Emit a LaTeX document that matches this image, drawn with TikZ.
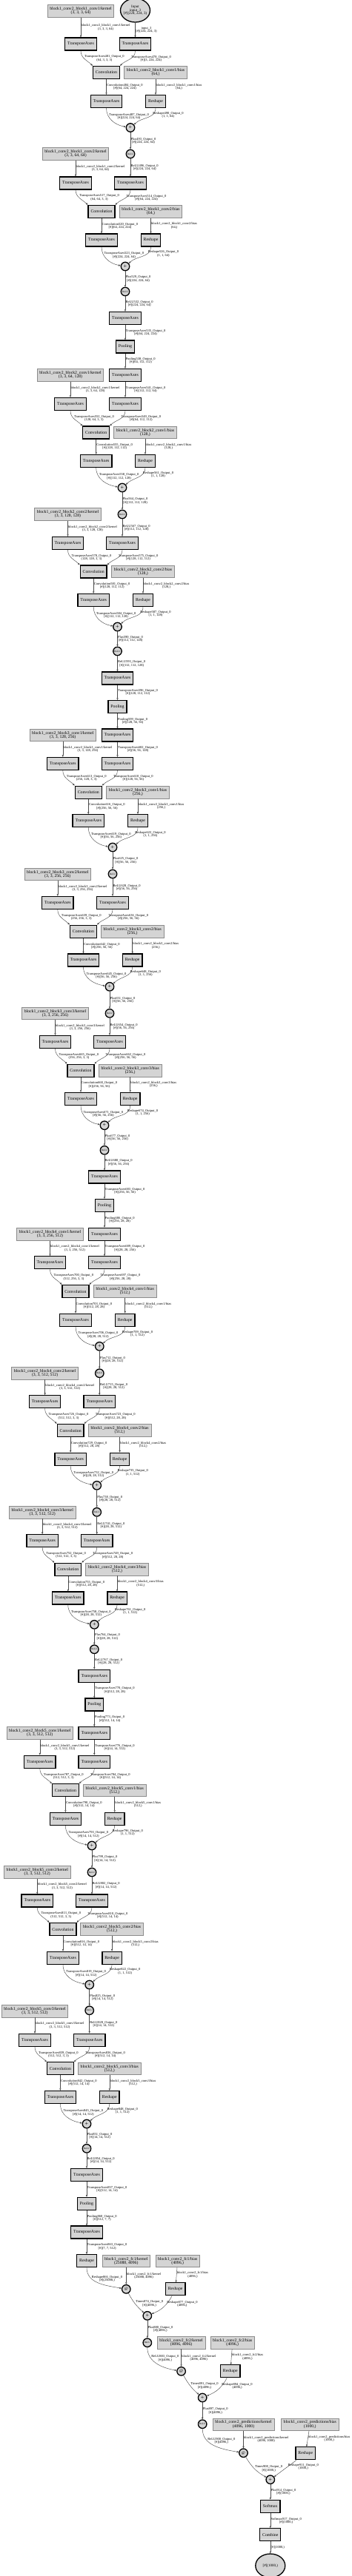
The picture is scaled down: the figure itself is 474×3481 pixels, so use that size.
\documentclass[tikz,border=0pt]{standalone}
\usepackage{fontspec}
\setmainfont{Liberation Serif}
\usetikzlibrary{arrows.meta,shapes.geometric}
\newcommand\dynax{[\#]}
\tikzset{
  kop/.style={draw=black, line width=1.3pt, fill=black!17, inner xsep=3.4pt, inner ysep=0pt, minimum height=17pt, font=\fontsize{5.8}{6}\selectfont},
  kparam/.style={draw=black!45, line width=0.7pt, fill=black!17, align=center, inner xsep=3.2pt, inner ysep=0pt, minimum height=16.5pt, font=\fontsize{5.7}{4.9}\selectfont},
  kcirc/.style={circle, draw=black, line width=1.3pt, fill=black!17, minimum size=11.5pt, inner sep=0pt},
  kplus/.style={kcirc, font=\fontsize{8}{8}\selectfont},
  krelu/.style={kcirc, font=\fontsize{3.3}{3.3}\selectfont},
  ktimes/.style={kcirc, font=\fontsize{5.5}{5.5}\selectfont},
  kegg/.style={ellipse, draw=black, line width=1.3pt, fill=black!17, align=center, minimum width=40pt, minimum height=32pt, inner xsep=-3pt, inner ysep=0pt, font=\fontsize{5}{4.7}\selectfont},
  flow/.style={-{Triangle[length=2.6pt, width=2.2pt]}, draw=black!70, line width=0.45pt},
  elabel/.style={anchor=west, align=center, inner sep=0.5pt, font=\fontsize{4.5}{4.3}\selectfont},
}
\begin{document}
\begin{tikzpicture}[x=1pt, y=1pt]
  \useasboundingbox (0,0) rectangle (474,-3481);
  \clip (0,0) rectangle (474,-3481);
  \node[kegg] (inp) at (182.5,-14) {Input\\input\_3\\\dynax(224, 224, 3)};
  \node[kparam] (kern1) at (109,-15) {block1\_conv2\_block1\_conv1/kernel\\(3, 3, 3, 64)};
  \node[kop] (tak1) at (109,-59.5) {TransposeAxes};
  \node[kop] (tain1) at (182.5,-59.5) {TransposeAxes};
  \node[kop] (conv1) at (143.5,-98) {Convolution};
  \node[kparam] (bias1) at (210,-98) {block1\_conv2\_block1\_conv1/bias\\(64,)};
  \node[kop] (taout1) at (143.5,-137) {TransposeAxes};
  \node[kop] (rsh1) at (210,-137) {Reshape};
  \node[kplus] (plus1) at (176,-172.5) {+};
  \node[krelu] (relu1) at (176,-208) {ReLU};
  \draw[flow] (kern1) -- (tak1) node[midway, elabel] {block1\_conv2\_block1\_conv1/kernel\\(3, 3, 3, 64)};
  \draw[flow] (inp) -- (tain1) node[midway, elabel] {input\_3\\\dynax(224, 224, 3)};
  \draw[flow] (tak1.south) to[out=-90, in=135] node[pos=0.45, elabel] {TransposeAxes481\_Output\_0\\(64, 3, 3, 3)} (conv1.north west);
  \draw[flow] (tain1.south) to[out=-90, in=45] node[pos=0.45, elabel] {TransposeAxes478\_Output\_0\\\dynax(3, 224, 224)} (conv1.north east);
  \draw[flow] (conv1) -- (taout1) node[midway, elabel] {Convolution484\_Output\_0\\\dynax(64, 224, 224)};
  \draw[flow] (bias1) -- (rsh1) node[midway, elabel] {block1\_conv2\_block1\_conv1/bias\\(64,)};
  \draw[flow] (taout1.south) to[out=-90, in=170] node[pos=0.3, elabel] {TransposeAxes487\_Output\_0\\\dynax(224, 224, 64)} (plus1.170);
  \draw[flow] (rsh1.south) to[out=-90, in=45] node[pos=0.3, elabel] {Reshape490\_Output\_0\\(1, 1, 64)} (plus1.40);
  \draw[flow] (plus1) -- (relu1) node[midway, elabel] {Plus493\_Output\_0\\\dynax(224, 224, 64)};

  \node[kparam] (kern2) at (102,-208) {block1\_conv2\_block1\_conv2/kernel\\(3, 3, 64, 64)};
  \node[kop] (tak2) at (102,-247.5) {TransposeAxes};
  \node[kop] (tain2) at (176,-247.5) {TransposeAxes};
  \node[kop] (conv2) at (137,-286) {Convolution};
  \node[kparam] (bias2) at (203.5,-286) {block1\_conv2\_block1\_conv2/bias\\(64,)};
  \node[kop] (taout2) at (137,-324.5) {TransposeAxes};
  \node[kop] (rsh2) at (203.5,-324.5) {Reshape};
  \node[kplus] (plus2) at (169,-360) {+};
  \node[krelu] (relu2) at (169,-394) {ReLU};
  \draw[flow] (kern2) -- (tak2) node[midway, elabel] {block1\_conv2\_block1\_conv2/kernel\\(3, 3, 64, 64)};
  \draw[flow] (relu1) -- (tain2) node[midway, elabel] {ReLU496\_Output\_0\\\dynax(224, 224, 64)};
  \draw[flow] (tak2.south) to[out=-90, in=135] node[pos=0.45, elabel] {TransposeAxes517\_Output\_0\\(64, 64, 3, 3)} (conv2.north west);
  \draw[flow] (tain2.south) to[out=-90, in=45] node[pos=0.45, elabel] {TransposeAxes514\_Output\_0\\\dynax(64, 224, 224)} (conv2.north east);
  \draw[flow] (conv2) -- (taout2) node[midway, elabel] {Convolution520\_Output\_0\\\dynax(64, 224, 224)};
  \draw[flow] (bias2) -- (rsh2) node[midway, elabel] {block1\_conv2\_block1\_conv2/bias\\(64,)};
  \draw[flow] (taout2.south) to[out=-90, in=170] node[pos=0.3, elabel] {TransposeAxes523\_Output\_0\\\dynax(224, 224, 64)} (plus2.170);
  \draw[flow] (rsh2.south) to[out=-90, in=45] node[pos=0.3, elabel] {Reshape526\_Output\_0\\(1, 1, 64)} (plus2.40);
  \draw[flow] (plus2) -- (relu2) node[midway, elabel] {Plus529\_Output\_0\\\dynax(224, 224, 64)};

  \node[kop] (tapre1) at (169,-430) {TransposeAxes};
  \node[kop] (pool1) at (169,-468.5) {Pooling};
  \node[kop] (tapost1) at (169,-507) {TransposeAxes};
  \draw[flow] (relu2) -- (tapre1) node[midway, elabel] {ReLU532\_Output\_0\\\dynax(224, 224, 64)};
  \draw[flow] (tapre1) -- (pool1) node[midway, elabel] {TransposeAxes535\_Output\_0\\\dynax(64, 224, 224)};
  \draw[flow] (pool1) -- (tapost1) node[midway, elabel] {Pooling538\_Output\_0\\\dynax(64, 112, 112)};

  \node[kparam] (kern3) at (95,-507) {block1\_conv2\_block2\_conv1/kernel\\(3, 3, 64, 128)};
  \node[kop] (tak3) at (95,-546) {TransposeAxes};
  \node[kop] (tain3) at (169,-546) {TransposeAxes};
  \node[kop] (conv3) at (129.7,-584.5) {Convolution};
  \node[kparam] (bias3) at (196,-584.5) {block1\_conv2\_block2\_conv1/bias\\(128,)};
  \node[kop] (taout3) at (129.7,-623) {TransposeAxes};
  \node[kop] (rsh3) at (196,-623) {Reshape};
  \node[kplus] (plus3) at (165,-659) {+};
  \node[krelu] (relu3) at (165,-695) {ReLU};
  \draw[flow] (kern3) -- (tak3) node[midway, elabel] {block1\_conv2\_block2\_conv1/kernel\\(3, 3, 64, 128)};
  \draw[flow] (tapost1) -- (tain3) node[midway, elabel] {TransposeAxes541\_Output\_0\\\dynax(112, 112, 64)};
  \draw[flow] (tak3.south) to[out=-90, in=135] node[pos=0.45, elabel] {TransposeAxes552\_Output\_0\\(128, 64, 3, 3)} (conv3.north west);
  \draw[flow] (tain3.south) to[out=-90, in=45] node[pos=0.45, elabel] {TransposeAxes549\_Output\_0\\\dynax(64, 112, 112)} (conv3.north east);
  \draw[flow] (conv3) -- (taout3) node[midway, elabel] {Convolution555\_Output\_0\\\dynax(128, 112, 112)};
  \draw[flow] (bias3) -- (rsh3) node[midway, elabel] {block1\_conv2\_block2\_conv1/bias\\(128,)};
  \draw[flow] (taout3.south) to[out=-90, in=170] node[pos=0.3, elabel] {TransposeAxes558\_Output\_0\\\dynax(112, 112, 128)} (plus3.170);
  \draw[flow] (rsh3.south) to[out=-90, in=45] node[pos=0.3, elabel] {Reshape561\_Output\_0\\(1, 1, 128)} (plus3.40);
  \draw[flow] (plus3) -- (relu3) node[midway, elabel] {Plus564\_Output\_0\\\dynax(112, 112, 128)};

  \node[kparam] (kern4) at (91.5,-695) {block1\_conv2\_block2\_conv2/kernel\\(3, 3, 128, 128)};
  \node[kop] (tak4) at (91.5,-734) {TransposeAxes};
  \node[kop] (tain4) at (165,-734) {TransposeAxes};
  \node[kop] (conv4) at (126.2,-772.5) {Convolution};
  \node[kparam] (bias4) at (193,-772.5) {block1\_conv2\_block2\_conv2/bias\\(128,)};
  \node[kop] (taout4) at (126.2,-811) {TransposeAxes};
  \node[kop] (rsh4) at (193,-811) {Reshape};
  \node[kplus] (plus4) at (158.5,-847) {+};
  \node[krelu] (relu4) at (158.5,-880) {ReLU};
  \draw[flow] (kern4) -- (tak4) node[midway, elabel] {block1\_conv2\_block2\_conv2/kernel\\(3, 3, 128, 128)};
  \draw[flow] (relu3) -- (tain4) node[midway, elabel] {ReLU567\_Output\_0\\\dynax(112, 112, 128)};
  \draw[flow] (tak4.south) to[out=-90, in=135] node[pos=0.45, elabel] {TransposeAxes578\_Output\_0\\(128, 128, 3, 3)} (conv4.north west);
  \draw[flow] (tain4.south) to[out=-90, in=45] node[pos=0.45, elabel] {TransposeAxes575\_Output\_0\\\dynax(128, 112, 112)} (conv4.north east);
  \draw[flow] (conv4) -- (taout4) node[midway, elabel] {Convolution581\_Output\_0\\\dynax(128, 112, 112)};
  \draw[flow] (bias4) -- (rsh4) node[midway, elabel] {block1\_conv2\_block2\_conv2/bias\\(128,)};
  \draw[flow] (taout4.south) to[out=-90, in=170] node[pos=0.3, elabel] {TransposeAxes584\_Output\_0\\\dynax(112, 112, 128)} (plus4.170);
  \draw[flow] (rsh4.south) to[out=-90, in=45] node[pos=0.3, elabel] {Reshape587\_Output\_0\\(1, 1, 128)} (plus4.40);
  \draw[flow] (plus4) -- (relu4) node[midway, elabel] {Plus590\_Output\_0\\\dynax(112, 112, 128)};

  \node[kop] (tapre2) at (158.5,-916.5) {TransposeAxes};
  \node[kop] (pool2) at (158.5,-955) {Pooling};
  \node[kop] (tapost2) at (158.5,-993.5) {TransposeAxes};
  \draw[flow] (relu4) -- (tapre2) node[midway, elabel] {ReLU593\_Output\_0\\\dynax(112, 112, 128)};
  \draw[flow] (tapre2) -- (pool2) node[midway, elabel] {TransposeAxes596\_Output\_0\\\dynax(128, 112, 112)};
  \draw[flow] (pool2) -- (tapost2) node[midway, elabel] {Pooling599\_Output\_0\\\dynax(128, 56, 56)};

  \node[kparam] (kern5) at (84.8,-993.5) {block1\_conv2\_block3\_conv1/kernel\\(3, 3, 128, 256)};
  \node[kop] (tak5) at (84.8,-1032) {TransposeAxes};
  \node[kop] (tain5) at (158.5,-1032) {TransposeAxes};
  \node[kop] (conv5) at (119.3,-1070.7) {Convolution};
  \node[kparam] (bias5) at (186,-1070.7) {block1\_conv2\_block3\_conv1/bias\\(256,)};
  \node[kop] (taout5) at (119.3,-1109.2) {TransposeAxes};
  \node[kop] (rsh5) at (186,-1109.2) {Reshape};
  \node[kplus] (plus5) at (152,-1145) {+};
  \node[krelu] (relu5) at (152,-1181) {ReLU};
  \draw[flow] (kern5) -- (tak5) node[midway, elabel] {block1\_conv2\_block3\_conv1/kernel\\(3, 3, 128, 256)};
  \draw[flow] (tapost2) -- (tain5) node[midway, elabel] {TransposeAxes602\_Output\_0\\\dynax(56, 56, 128)};
  \draw[flow] (tak5.south) to[out=-90, in=135] node[pos=0.45, elabel] {TransposeAxes613\_Output\_0\\(256, 128, 3, 3)} (conv5.north west);
  \draw[flow] (tain5.south) to[out=-90, in=45] node[pos=0.45, elabel] {TransposeAxes610\_Output\_0\\\dynax(128, 56, 56)} (conv5.north east);
  \draw[flow] (conv5) -- (taout5) node[midway, elabel] {Convolution616\_Output\_0\\\dynax(256, 56, 56)};
  \draw[flow] (bias5) -- (rsh5) node[midway, elabel] {block1\_conv2\_block3\_conv1/bias\\(256,)};
  \draw[flow] (taout5.south) to[out=-90, in=170] node[pos=0.3, elabel] {TransposeAxes619\_Output\_0\\\dynax(56, 56, 256)} (plus5.170);
  \draw[flow] (rsh5.south) to[out=-90, in=45] node[pos=0.3, elabel] {Reshape622\_Output\_0\\(1, 1, 256)} (plus5.40);
  \draw[flow] (plus5) -- (relu5) node[midway, elabel] {Plus625\_Output\_0\\\dynax(56, 56, 256)};

  \node[kparam] (kern6) at (77.8,-1181.3) {block1\_conv2\_block3\_conv2/kernel\\(3, 3, 256, 256)};
  \node[kop] (tak6) at (77.8,-1220) {TransposeAxes};
  \node[kop] (tain6) at (152,-1220) {TransposeAxes};
  \node[kop] (conv6) at (112.5,-1258.7) {Convolution};
  \node[kparam] (bias6) at (178.7,-1258.7) {block1\_conv2\_block3\_conv2/bias\\(256,)};
  \node[kop] (taout6) at (112.5,-1297.5) {TransposeAxes};
  \node[kop] (rsh6) at (178.7,-1297.5) {Reshape};
  \node[kplus] (plus6) at (148,-1333.3) {+};
  \node[krelu] (relu6) at (148,-1369.3) {ReLU};
  \draw[flow] (kern6) -- (tak6) node[midway, elabel] {block1\_conv2\_block3\_conv2/kernel\\(3, 3, 256, 256)};
  \draw[flow] (relu5) -- (tain6) node[midway, elabel] {ReLU628\_Output\_0\\\dynax(56, 56, 256)};
  \draw[flow] (tak6.south) to[out=-90, in=135] node[pos=0.45, elabel] {TransposeAxes639\_Output\_0\\(256, 256, 3, 3)} (conv6.north west);
  \draw[flow] (tain6.south) to[out=-90, in=45] node[pos=0.45, elabel] {TransposeAxes636\_Output\_0\\\dynax(256, 56, 56)} (conv6.north east);
  \draw[flow] (conv6) -- (taout6) node[midway, elabel] {Convolution642\_Output\_0\\\dynax(256, 56, 56)};
  \draw[flow] (bias6) -- (rsh6) node[midway, elabel] {block1\_conv2\_block3\_conv2/bias\\(256,)};
  \draw[flow] (taout6.south) to[out=-90, in=170] node[pos=0.3, elabel] {TransposeAxes645\_Output\_0\\\dynax(56, 56, 256)} (plus6.170);
  \draw[flow] (rsh6.south) to[out=-90, in=45] node[pos=0.3, elabel] {Reshape648\_Output\_0\\(1, 1, 256)} (plus6.40);
  \draw[flow] (plus6) -- (relu6) node[midway, elabel] {Plus651\_Output\_0\\\dynax(56, 56, 256)};

  \node[kparam] (kern7) at (74.5,-1369.5) {block1\_conv2\_block3\_conv3/kernel\\(3, 3, 256, 256)};
  \node[kop] (tak7) at (74.5,-1408) {TransposeAxes};
  \node[kop] (tain7) at (148,-1408) {TransposeAxes};
  \node[kop] (conv7) at (109,-1446.7) {Convolution};
  \node[kparam] (bias7) at (175.7,-1446.7) {block1\_conv2\_block3\_conv3/bias\\(256,)};
  \node[kop] (taout7) at (109,-1485) {TransposeAxes};
  \node[kop] (rsh7) at (175.7,-1485) {Reshape};
  \node[kplus] (plus7) at (141,-1520.7) {+};
  \node[krelu] (relu7) at (141,-1554.3) {ReLU};
  \draw[flow] (kern7) -- (tak7) node[midway, elabel] {block1\_conv2\_block3\_conv3/kernel\\(3, 3, 256, 256)};
  \draw[flow] (relu6) -- (tain7) node[midway, elabel] {ReLU654\_Output\_0\\\dynax(56, 56, 256)};
  \draw[flow] (tak7.south) to[out=-90, in=135] node[pos=0.45, elabel] {TransposeAxes665\_Output\_0\\(256, 256, 3, 3)} (conv7.north west);
  \draw[flow] (tain7.south) to[out=-90, in=45] node[pos=0.45, elabel] {TransposeAxes662\_Output\_0\\\dynax(256, 56, 56)} (conv7.north east);
  \draw[flow] (conv7) -- (taout7) node[midway, elabel] {Convolution668\_Output\_0\\\dynax(256, 56, 56)};
  \draw[flow] (bias7) -- (rsh7) node[midway, elabel] {block1\_conv2\_block3\_conv3/bias\\(256,)};
  \draw[flow] (taout7.south) to[out=-90, in=170] node[pos=0.3, elabel] {TransposeAxes671\_Output\_0\\\dynax(56, 56, 256)} (plus7.170);
  \draw[flow] (rsh7.south) to[out=-90, in=45] node[pos=0.3, elabel] {Reshape674\_Output\_0\\(1, 1, 256)} (plus7.40);
  \draw[flow] (plus7) -- (relu7) node[midway, elabel] {Plus677\_Output\_0\\\dynax(56, 56, 256)};

  \node[kop] (tapre3) at (141,-1590.5) {TransposeAxes};
  \node[kop] (pool3) at (141,-1629) {Pooling};
  \node[kop] (tapost3) at (141,-1667.8) {TransposeAxes};
  \draw[flow] (relu7) -- (tapre3) node[midway, elabel] {ReLU680\_Output\_0\\\dynax(56, 56, 256)};
  \draw[flow] (tapre3) -- (pool3) node[midway, elabel] {TransposeAxes683\_Output\_0\\\dynax(256, 56, 56)};
  \draw[flow] (pool3) -- (tapost3) node[midway, elabel] {Pooling686\_Output\_0\\\dynax(256, 28, 28)};

  \node[kparam] (kern8) at (67.5,-1668) {block1\_conv2\_block4\_conv1/kernel\\(3, 3, 256, 512)};
  \node[kop] (tak8) at (67.5,-1706.3) {TransposeAxes};
  \node[kop] (tain8) at (141,-1706.3) {TransposeAxes};
  \node[kop] (conv8) at (102,-1745) {Convolution};
  \node[kparam] (bias8) at (168.7,-1745) {block1\_conv2\_block4\_conv1/bias\\(512,)};
  \node[kop] (taout8) at (102,-1783.7) {TransposeAxes};
  \node[kop] (rsh8) at (168.7,-1783.7) {Reshape};
  \node[kplus] (plus8) at (134.3,-1819.3) {+};
  \node[krelu] (relu8) at (134.3,-1855.7) {ReLU};
  \draw[flow] (kern8) -- (tak8) node[midway, elabel] {block1\_conv2\_block4\_conv1/kernel\\(3, 3, 256, 512)};
  \draw[flow] (tapost3) -- (tain8) node[midway, elabel] {TransposeAxes689\_Output\_0\\\dynax(28, 28, 256)};
  \draw[flow] (tak8.south) to[out=-90, in=135] node[pos=0.45, elabel] {TransposeAxes700\_Output\_0\\(512, 256, 3, 3)} (conv8.north west);
  \draw[flow] (tain8.south) to[out=-90, in=45] node[pos=0.45, elabel] {TransposeAxes697\_Output\_0\\\dynax(256, 28, 28)} (conv8.north east);
  \draw[flow] (conv8) -- (taout8) node[midway, elabel] {Convolution703\_Output\_0\\\dynax(512, 28, 28)};
  \draw[flow] (bias8) -- (rsh8) node[midway, elabel] {block1\_conv2\_block4\_conv1/bias\\(512,)};
  \draw[flow] (taout8.south) to[out=-90, in=170] node[pos=0.3, elabel] {TransposeAxes706\_Output\_0\\\dynax(28, 28, 512)} (plus8.170);
  \draw[flow] (rsh8.south) to[out=-90, in=45] node[pos=0.3, elabel] {Reshape709\_Output\_0\\(1, 1, 512)} (plus8.40);
  \draw[flow] (plus8) -- (relu8) node[midway, elabel] {Plus712\_Output\_0\\\dynax(28, 28, 512)};

  \node[kparam] (kern9) at (60.6,-1855.7) {block1\_conv2\_block4\_conv2/kernel\\(3, 3, 512, 512)};
  \node[kop] (tak9) at (60.6,-1894.2) {TransposeAxes};
  \node[kop] (tain9) at (134.3,-1894.2) {TransposeAxes};
  \node[kop] (conv9) at (95.2,-1933) {Convolution};
  \node[kparam] (bias9) at (161.6,-1933) {block1\_conv2\_block4\_conv2/bias\\(512,)};
  \node[kop] (taout9) at (95.2,-1971.7) {TransposeAxes};
  \node[kop] (rsh9) at (161.6,-1971.7) {Reshape};
  \node[kplus] (plus9) at (130.7,-2007.3) {+};
  \node[krelu] (relu9) at (130.7,-2043.3) {ReLU};
  \draw[flow] (kern9) -- (tak9) node[midway, elabel] {block1\_conv2\_block4\_conv2/kernel\\(3, 3, 512, 512)};
  \draw[flow] (relu8) -- (tain9) node[midway, elabel] {ReLU715\_Output\_0\\\dynax(28, 28, 512)};
  \draw[flow] (tak9.south) to[out=-90, in=135] node[pos=0.45, elabel] {TransposeAxes726\_Output\_0\\(512, 512, 3, 3)} (conv9.north west);
  \draw[flow] (tain9.south) to[out=-90, in=45] node[pos=0.45, elabel] {TransposeAxes723\_Output\_0\\\dynax(512, 28, 28)} (conv9.north east);
  \draw[flow] (conv9) -- (taout9) node[midway, elabel] {Convolution729\_Output\_0\\\dynax(512, 28, 28)};
  \draw[flow] (bias9) -- (rsh9) node[midway, elabel] {block1\_conv2\_block4\_conv2/bias\\(512,)};
  \draw[flow] (taout9.south) to[out=-90, in=170] node[pos=0.3, elabel] {TransposeAxes732\_Output\_0\\\dynax(28, 28, 512)} (plus9.170);
  \draw[flow] (rsh9.south) to[out=-90, in=45] node[pos=0.3, elabel] {Reshape735\_Output\_0\\(1, 1, 512)} (plus9.40);
  \draw[flow] (plus9) -- (relu9) node[midway, elabel] {Plus738\_Output\_0\\\dynax(28, 28, 512)};

  \node[kparam] (kern10) at (57.2,-2043.7) {block1\_conv2\_block4\_conv3/kernel\\(3, 3, 512, 512)};
  \node[kop] (tak10) at (57.2,-2082.2) {TransposeAxes};
  \node[kop] (tain10) at (130.7,-2082.2) {TransposeAxes};
  \node[kop] (conv10) at (91.8,-2120.8) {Convolution};
  \node[kparam] (bias10) at (158.1,-2120.8) {block1\_conv2\_block4\_conv3/bias\\(512,)};
  \node[kop] (taout10) at (91.8,-2159.5) {TransposeAxes};
  \node[kop] (rsh10) at (158.1,-2159.5) {Reshape};
  \node[kplus] (plus10) at (127.3,-2195.3) {+};
  \node[krelu] (relu10) at (127.3,-2228.7) {ReLU};
  \draw[flow] (kern10) -- (tak10) node[midway, elabel] {block1\_conv2\_block4\_conv3/kernel\\(3, 3, 512, 512)};
  \draw[flow] (relu9) -- (tain10) node[midway, elabel] {ReLU741\_Output\_0\\\dynax(28, 28, 512)};
  \draw[flow] (tak10.south) to[out=-90, in=135] node[pos=0.45, elabel] {TransposeAxes752\_Output\_0\\(512, 512, 3, 3)} (conv10.north west);
  \draw[flow] (tain10.south) to[out=-90, in=45] node[pos=0.45, elabel] {TransposeAxes749\_Output\_0\\\dynax(512, 28, 28)} (conv10.north east);
  \draw[flow] (conv10) -- (taout10) node[midway, elabel] {Convolution755\_Output\_0\\\dynax(512, 28, 28)};
  \draw[flow] (bias10) -- (rsh10) node[midway, elabel] {block1\_conv2\_block4\_conv3/bias\\(512,)};
  \draw[flow] (taout10.south) to[out=-90, in=170] node[pos=0.3, elabel] {TransposeAxes758\_Output\_0\\\dynax(28, 28, 512)} (plus10.170);
  \draw[flow] (rsh10.south) to[out=-90, in=45] node[pos=0.3, elabel] {Reshape761\_Output\_0\\(1, 1, 512)} (plus10.40);
  \draw[flow] (plus10) -- (relu10) node[midway, elabel] {Plus764\_Output\_0\\\dynax(28, 28, 512)};

  \node[kop] (tapre4) at (127.3,-2264.7) {TransposeAxes};
  \node[kop] (pool4) at (127.3,-2303.5) {Pooling};
  \node[kop] (tapost4) at (127.3,-2342.2) {TransposeAxes};
  \draw[flow] (relu10) -- (tapre4) node[midway, elabel] {ReLU767\_Output\_0\\\dynax(28, 28, 512)};
  \draw[flow] (tapre4) -- (pool4) node[midway, elabel] {TransposeAxes770\_Output\_0\\\dynax(512, 28, 28)};
  \draw[flow] (pool4) -- (tapost4) node[midway, elabel] {Pooling773\_Output\_0\\\dynax(512, 14, 14)};

  \node[kparam] (kern11) at (53.8,-2342) {block1\_conv2\_block5\_conv1/kernel\\(3, 3, 512, 512)};
  \node[kop] (tak11) at (53.8,-2380.7) {TransposeAxes};
  \node[kop] (tain11) at (127.3,-2380.7) {TransposeAxes};
  \node[kop] (conv11) at (88.4,-2419.2) {Convolution};
  \node[kparam] (bias11) at (154.7,-2419.2) {block1\_conv2\_block5\_conv1/bias\\(512,)};
  \node[kop] (taout11) at (88.4,-2458) {TransposeAxes};
  \node[kop] (rsh11) at (154.7,-2458) {Reshape};
  \node[kplus] (plus11) at (124,-2494) {+};
  \node[krelu] (relu11) at (124,-2530) {ReLU};
  \draw[flow] (kern11) -- (tak11) node[midway, elabel] {block1\_conv2\_block5\_conv1/kernel\\(3, 3, 512, 512)};
  \draw[flow] (tapost4) -- (tain11) node[midway, elabel] {TransposeAxes776\_Output\_0\\\dynax(14, 14, 512)};
  \draw[flow] (tak11.south) to[out=-90, in=135] node[pos=0.45, elabel] {TransposeAxes787\_Output\_0\\(512, 512, 3, 3)} (conv11.north west);
  \draw[flow] (tain11.south) to[out=-90, in=45] node[pos=0.45, elabel] {TransposeAxes784\_Output\_0\\\dynax(512, 14, 14)} (conv11.north east);
  \draw[flow] (conv11) -- (taout11) node[midway, elabel] {Convolution790\_Output\_0\\\dynax(512, 14, 14)};
  \draw[flow] (bias11) -- (rsh11) node[midway, elabel] {block1\_conv2\_block5\_conv1/bias\\(512,)};
  \draw[flow] (taout11.south) to[out=-90, in=170] node[pos=0.3, elabel] {TransposeAxes793\_Output\_0\\\dynax(14, 14, 512)} (plus11.170);
  \draw[flow] (rsh11.south) to[out=-90, in=45] node[pos=0.3, elabel] {Reshape796\_Output\_0\\(1, 1, 512)} (plus11.40);
  \draw[flow] (plus11) -- (relu11) node[midway, elabel] {Plus799\_Output\_0\\\dynax(14, 14, 512)};

  \node[kparam] (kern12) at (50.3,-2530) {block1\_conv2\_block5\_conv2/kernel\\(3, 3, 512, 512)};
  \node[kop] (tak12) at (50.3,-2568.5) {TransposeAxes};
  \node[kop] (tain12) at (124,-2568.5) {TransposeAxes};
  \node[kop] (conv12) at (85,-2607) {Convolution};
  \node[kparam] (bias12) at (151.1,-2607) {block1\_conv2\_block5\_conv2/bias\\(512,)};
  \node[kop] (taout12) at (85,-2645.8) {TransposeAxes};
  \node[kop] (rsh12) at (151.1,-2645.8) {Reshape};
  \node[kplus] (plus12) at (120.7,-2682) {+};
  \node[krelu] (relu12) at (120.7,-2716.7) {ReLU};
  \draw[flow] (kern12) -- (tak12) node[midway, elabel] {block1\_conv2\_block5\_conv2/kernel\\(3, 3, 512, 512)};
  \draw[flow] (relu11) -- (tain12) node[midway, elabel] {ReLU802\_Output\_0\\\dynax(14, 14, 512)};
  \draw[flow] (tak12.south) to[out=-90, in=135] node[pos=0.45, elabel] {TransposeAxes813\_Output\_0\\(512, 512, 3, 3)} (conv12.north west);
  \draw[flow] (tain12.south) to[out=-90, in=45] node[pos=0.45, elabel] {TransposeAxes810\_Output\_0\\\dynax(512, 14, 14)} (conv12.north east);
  \draw[flow] (conv12) -- (taout12) node[midway, elabel] {Convolution816\_Output\_0\\\dynax(512, 14, 14)};
  \draw[flow] (bias12) -- (rsh12) node[midway, elabel] {block1\_conv2\_block5\_conv2/bias\\(512,)};
  \draw[flow] (taout12.south) to[out=-90, in=170] node[pos=0.3, elabel] {TransposeAxes819\_Output\_0\\\dynax(14, 14, 512)} (plus12.170);
  \draw[flow] (rsh12.south) to[out=-90, in=45] node[pos=0.3, elabel] {Reshape822\_Output\_0\\(1, 1, 512)} (plus12.40);
  \draw[flow] (plus12) -- (relu12) node[midway, elabel] {Plus825\_Output\_0\\\dynax(14, 14, 512)};

  \node[kparam] (kern13) at (47,-2717.7) {block1\_conv2\_block5\_conv3/kernel\\(3, 3, 512, 512)};
  \node[kop] (tak13) at (47,-2756.8) {TransposeAxes};
  \node[kop] (tain13) at (120.7,-2756.8) {TransposeAxes};
  \node[kop] (conv13) at (81.4,-2795.3) {Convolution};
  \node[kparam] (bias13) at (147.8,-2795.3) {block1\_conv2\_block5\_conv3/bias\\(512,)};
  \node[kop] (taout13) at (81.4,-2834) {TransposeAxes};
  \node[kop] (rsh13) at (147.8,-2834) {Reshape};
  \node[kplus] (plus13) at (117,-2870) {+};
  \node[krelu] (relu13) at (117,-2903.3) {ReLU};
  \draw[flow] (kern13) -- (tak13) node[midway, elabel] {block1\_conv2\_block5\_conv3/kernel\\(3, 3, 512, 512)};
  \draw[flow] (relu12) -- (tain13) node[midway, elabel] {ReLU828\_Output\_0\\\dynax(14, 14, 512)};
  \draw[flow] (tak13.south) to[out=-90, in=135] node[pos=0.45, elabel] {TransposeAxes839\_Output\_0\\(512, 512, 3, 3)} (conv13.north west);
  \draw[flow] (tain13.south) to[out=-90, in=45] node[pos=0.45, elabel] {TransposeAxes836\_Output\_0\\\dynax(512, 14, 14)} (conv13.north east);
  \draw[flow] (conv13) -- (taout13) node[midway, elabel] {Convolution842\_Output\_0\\\dynax(512, 14, 14)};
  \draw[flow] (bias13) -- (rsh13) node[midway, elabel] {block1\_conv2\_block5\_conv3/bias\\(512,)};
  \draw[flow] (taout13.south) to[out=-90, in=170] node[pos=0.3, elabel] {TransposeAxes845\_Output\_0\\\dynax(14, 14, 512)} (plus13.170);
  \draw[flow] (rsh13.south) to[out=-90, in=45] node[pos=0.3, elabel] {Reshape848\_Output\_0\\(1, 1, 512)} (plus13.40);
  \draw[flow] (plus13) -- (relu13) node[midway, elabel] {Plus851\_Output\_0\\\dynax(14, 14, 512)};

  \node[kop] (tapre5) at (117,-2939) {TransposeAxes};
  \node[kop] (pool5) at (117,-2977.8) {Pooling};
  \node[kop] (tapost5) at (117,-3016.5) {TransposeAxes};
  \node[kop] (flat) at (117,-3055.2) {Reshape};
  \draw[flow] (relu13) -- (tapre5) node[midway, elabel] {ReLU854\_Output\_0\\\dynax(14, 14, 512)};
  \draw[flow] (tapre5) -- (pool5) node[midway, elabel] {TransposeAxes857\_Output\_0\\\dynax(512, 14, 14)};
  \draw[flow] (pool5) -- (tapost5) node[midway, elabel] {Pooling860\_Output\_0\\\dynax(512, 7, 7)};
  \draw[flow] (tapost5) -- (flat) node[midway, elabel] {TransposeAxes863\_Output\_0\\\dynax(7, 7, 512)};

  \node[kparam] (fc1k) at (170.3,-3055.2) {block1\_conv2\_fc1/kernel\\(25088, 4096)};
  \node[kparam] (fc1b) at (239.7,-3055.2) {block1\_conv2\_fc1/bias\\(4096,)};
  \node[ktimes] (times1) at (170.3,-3093.3) {@};
  \node[kop] (rshfc1) at (236.7,-3093.3) {Reshape};
  \node[kplus] (plusfc1) at (198.8,-3129.3) {+};
  \node[krelu] (relufc1) at (198.8,-3165.7) {ReLU};
  \draw[flow] (flat.south) to[out=-90, in=170] node[pos=0.3, elabel] {Reshape866\_Output\_0\\\dynax(25088,)} (times1.170);
  \draw[flow] (fc1k) -- (times1) node[midway, elabel] {block1\_conv2\_fc1/kernel\\(25088, 4096)};
  \draw[flow] (fc1b) -- (rshfc1) node[midway, elabel] {block1\_conv2\_fc1/bias\\(4096,)};
  \draw[flow] (times1) to[bend right=10] node[midway, elabel] {Times874\_Output\_0\\\dynax(4096,)} (plusfc1);
  \draw[flow] (rshfc1) to[bend left=20] node[pos=0.35, elabel] {Reshape877\_Output\_0\\(4096,)} (plusfc1);
  \draw[flow] (plusfc1) -- (relufc1) node[midway, elabel] {Plus880\_Output\_0\\\dynax(4096,)};

  \node[kparam] (fc2k) at (244.6,-3165.8) {block1\_conv2\_fc2/kernel\\(4096, 4096)};
  \node[kparam] (fc2b) at (313.8,-3165.8) {block1\_conv2\_fc2/bias\\(4096,)};
  \node[ktimes] (times2) at (244.6,-3204.3) {@};
  \node[kop] (rshfc2) at (310.8,-3204.3) {Reshape};
  \node[kplus] (plusfc2) at (273.2,-3240) {+};
  \node[krelu] (relufc2) at (273.2,-3275.7) {ReLU};
  \draw[flow] (relufc1.south) to[out=-90, in=170] node[pos=0.3, elabel] {ReLU883\_Output\_0\\\dynax(4096,)} (times2.170);
  \draw[flow] (fc2k) -- (times2) node[midway, elabel] {block1\_conv2\_fc2/kernel\\(4096, 4096)};
  \draw[flow] (fc2b) -- (rshfc2) node[midway, elabel] {block1\_conv2\_fc2/bias\\(4096,)};
  \draw[flow] (times2) to[bend right=10] node[midway, elabel] {Times891\_Output\_0\\\dynax(4096,)} (plusfc2);
  \draw[flow] (rshfc2) to[bend left=20] node[pos=0.35, elabel] {Reshape894\_Output\_0\\(4096,)} (plusfc2);
  \draw[flow] (plusfc2) -- (relufc2) node[midway, elabel] {Plus897\_Output\_0\\\dynax(4096,)};

  \node[kparam] (predk) at (328.5,-3276.3) {block1\_conv2\_predictions/kernel\\(4096, 1000)};
  \node[kparam] (predb) at (418.3,-3276.3) {block1\_conv2\_predictions/bias\\(1000,)};
  \node[ktimes] (times3) at (328.5,-3314.7) {@};
  \node[kop] (rshpred) at (412.3,-3315.2) {Reshape};
  \node[kplus] (pluspred) at (364.8,-3350.7) {+};
  \node[kop] (smax) at (364.8,-3386.8) {Softmax};
  \node[kop] (comb) at (364.8,-3425.3) {Combine};
  \node[kegg] (outp) at (364.8,-3467) {\dynax(1000,)};
  \draw[flow] (relufc2.south) to[out=-90, in=170] node[pos=0.3, elabel] {ReLU900\_Output\_0\\\dynax(4096,)} (times3.170);
  \draw[flow] (predk) -- (times3) node[midway, elabel] {block1\_conv2\_predictions/kernel\\(4096, 1000)};
  \draw[flow] (predb) -- (rshpred) node[midway, elabel] {block1\_conv2\_predictions/bias\\(1000,)};
  \draw[flow] (times3) to[bend right=15] node[midway, elabel] {Times908\_Output\_0\\\dynax(1000,)} (pluspred);
  \draw[flow] (rshpred) -- (pluspred) node[pos=0.4, elabel] {Reshape911\_Output\_0\\(1000,)};
  \draw[flow] (pluspred) -- (smax) node[midway, elabel] {Plus914\_Output\_0\\\dynax(1000,)};
  \draw[flow] (smax) -- (comb) node[midway, elabel] {Softmax917\_Output\_0\\\dynax(1000,)};
  \draw[flow] (comb) -- (outp) node[midway, elabel] {\dynax(1000,)};
\end{tikzpicture}
\end{document}
